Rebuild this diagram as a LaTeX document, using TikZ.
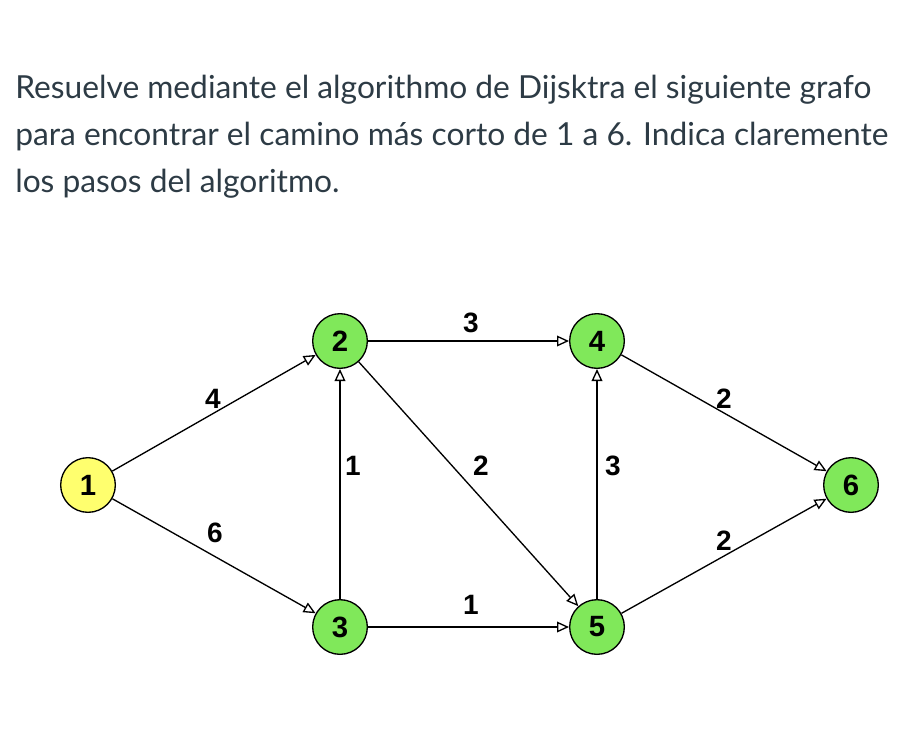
\documentclass[tikz,border=0pt]{standalone}
\usepackage{fontspec}
\setmainfont{Lato}
\newfontfamily\arialb{Liberation Sans}
\usetikzlibrary{arrows.meta}
\definecolor{gn}{RGB}{128,232,90}
\definecolor{yl}{RGB}{255,255,110}
\definecolor{tx}{RGB}{45,59,69}
\begin{document}
\begin{tikzpicture}[x=0.75pt,y=-0.75pt,
 vtx/.style={circle,draw,line width=1pt,minimum size=41pt,inner sep=0pt,font=\arialb\bfseries\fontsize{22}{22}\selectfont},
 edge/.style={line width=1pt,-{Triangle[open,fill=white,length=9pt,width=8pt]}},
 wl/.style={font=\arialb\bfseries\fontsize{21}{21}\selectfont,inner sep=1pt},
 para/.style={anchor=west,text=tx,font=\fontsize{23.8}{23.8}\selectfont,inner sep=0pt}]
\useasboundingbox (0,0) rectangle (916,736);
\node[para] (t1) at (15,90) {Resuelve mediante el algorithmo de Dijsktra el siguiente grafo};
\node[para] (t2) at (15,137) {para encontrar el camino más corto de 1 a 6. Indica claremente};
\node[para] (t3) at (15,184) {los pasos del algoritmo.};
\node[vtx,fill=yl] (n1) at (88,485) {1};
\node[vtx,fill=gn] (n2) at (340,341) {2};
\node[vtx,fill=gn] (n4) at (597,341) {4};
\node[vtx,fill=gn] (n3) at (340,627) {3};
\node[vtx,fill=gn] (n5) at (597,627) {5};
\node[vtx,fill=gn] (n6) at (851,485) {6};
\draw[edge] (n1) -- (n2);
\draw[edge] (n1) -- (n3);
\draw[edge] (n3) -- (n2);
\draw[edge] (n2) -- (n4);
\draw[edge] (n2) -- (n5);
\draw[edge] (n3) -- (n5);
\draw[edge] (n5) -- (n4);
\draw[edge] (n4) -- (n6);
\draw[edge] (n5) -- (n6);
\node[wl] (w12) at (213,399) {4};
\node[wl] (w13) at (215,533) {6};
\node[wl] (w32) at (353,466) {1};
\node[wl] (w25) at (481,466) {2};
\node[wl] (w24) at (471,323) {3};
\node[wl] (w35) at (471,605) {1};
\node[wl] (w54) at (613,466) {3};
\node[wl] (w46) at (724,399) {2};
\node[wl] (w56) at (724,541) {2};
\end{tikzpicture}
\end{document}
